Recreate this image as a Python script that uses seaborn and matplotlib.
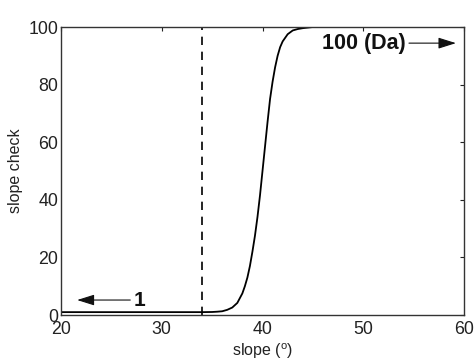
import matplotlib
matplotlib.use("Agg")
import matplotlib.pyplot as plt
import seaborn as sns
import pandas as pd

# Data
slope = [20, 30, 34, 35, 35.5, 36, 36.5, 37, 37.5, 38, 38.25, 38.5, 38.75, 39,
         39.25, 39.5, 39.75, 40, 40.25, 40.5, 40.75, 41, 41.25, 41.5, 41.75,
         42, 42.5, 43, 43.5, 44, 45, 50, 60]
check = [1, 1, 1, 1.05, 1.15, 1.3, 1.8, 2.6, 4.2, 7.5, 10, 13, 17, 22,
         27.5, 34, 41.5, 50, 58.5, 67, 75, 81, 86, 90, 93,
         95, 97.5, 98.8, 99.3, 99.6, 100, 100, 100]
threshold = 34
x_ticks = [20, 30, 40, 50, 60]
y_ticks = [0, 20, 40, 60, 80, 100]
low_label = "1"
high_label = "100 (Da)"

sns.set_theme(style="white")
plt.rcParams['font.family'] = ['Liberation Sans', 'DejaVu Sans']
plt.rcParams['mathtext.fontset'] = 'custom'
plt.rcParams['mathtext.rm'] = 'Liberation Sans'
plt.rcParams['mathtext.it'] = 'Liberation Sans'

df = pd.DataFrame({"slope": slope, "check": check})

fig = plt.figure(figsize=(4.74, 3.63), dpi=100)
ax = fig.add_axes([0.1287, 0.1322, 0.9789 - 0.1287, 0.9256 - 0.1322])

sns.lineplot(data=df, x="slope", y="check", ax=ax, color="black", linewidth=1.3)
ax.axvline(threshold, color="black", linestyle=(0, (5, 4)), linewidth=1.2)

ax.set_xlim(20, 60)
ax.set_ylim(0, 100)
ax.set_xticks(x_ticks)
ax.set_yticks(y_ticks)
ax.tick_params(direction="in", length=3, width=0.8, top=True, right=True,
               labelsize=12.8, pad=2, colors="#222222")
ax.tick_params(axis="x", pad=4)
for s in ax.spines.values():
    s.set_color("#333333")
    s.set_linewidth(1.0)

ax.set_xlabel(r"slope ($^{\rm o}$)", fontsize=11.5, labelpad=3, color="#222222")
ax.set_ylabel("slope check", fontsize=11.5, labelpad=4, color="#222222")

ax.annotate(low_label, xy=(21.6, 5.2), xytext=(27.2, 5.2), fontsize=15,
            fontweight="bold", va="center", ha="left", color="#111111",
            arrowprops=dict(arrowstyle="-|>,head_length=0.7,head_width=0.22",
                            color="#111111", lw=0.8, shrinkA=0, shrinkB=0,
                            relpos=(0, 0.5)))
ax.annotate(high_label, xy=(59.2, 94.4), xytext=(45.9, 94.4), fontsize=15.5,
            fontweight="bold", va="center", ha="left", color="#111111",
            arrowprops=dict(arrowstyle="-|>,head_length=0.7,head_width=0.22",
                            color="#111111", lw=0.8, shrinkA=0, shrinkB=0,
                            relpos=(1, 0.5)))

fig.savefig("out.png", dpi=100)
